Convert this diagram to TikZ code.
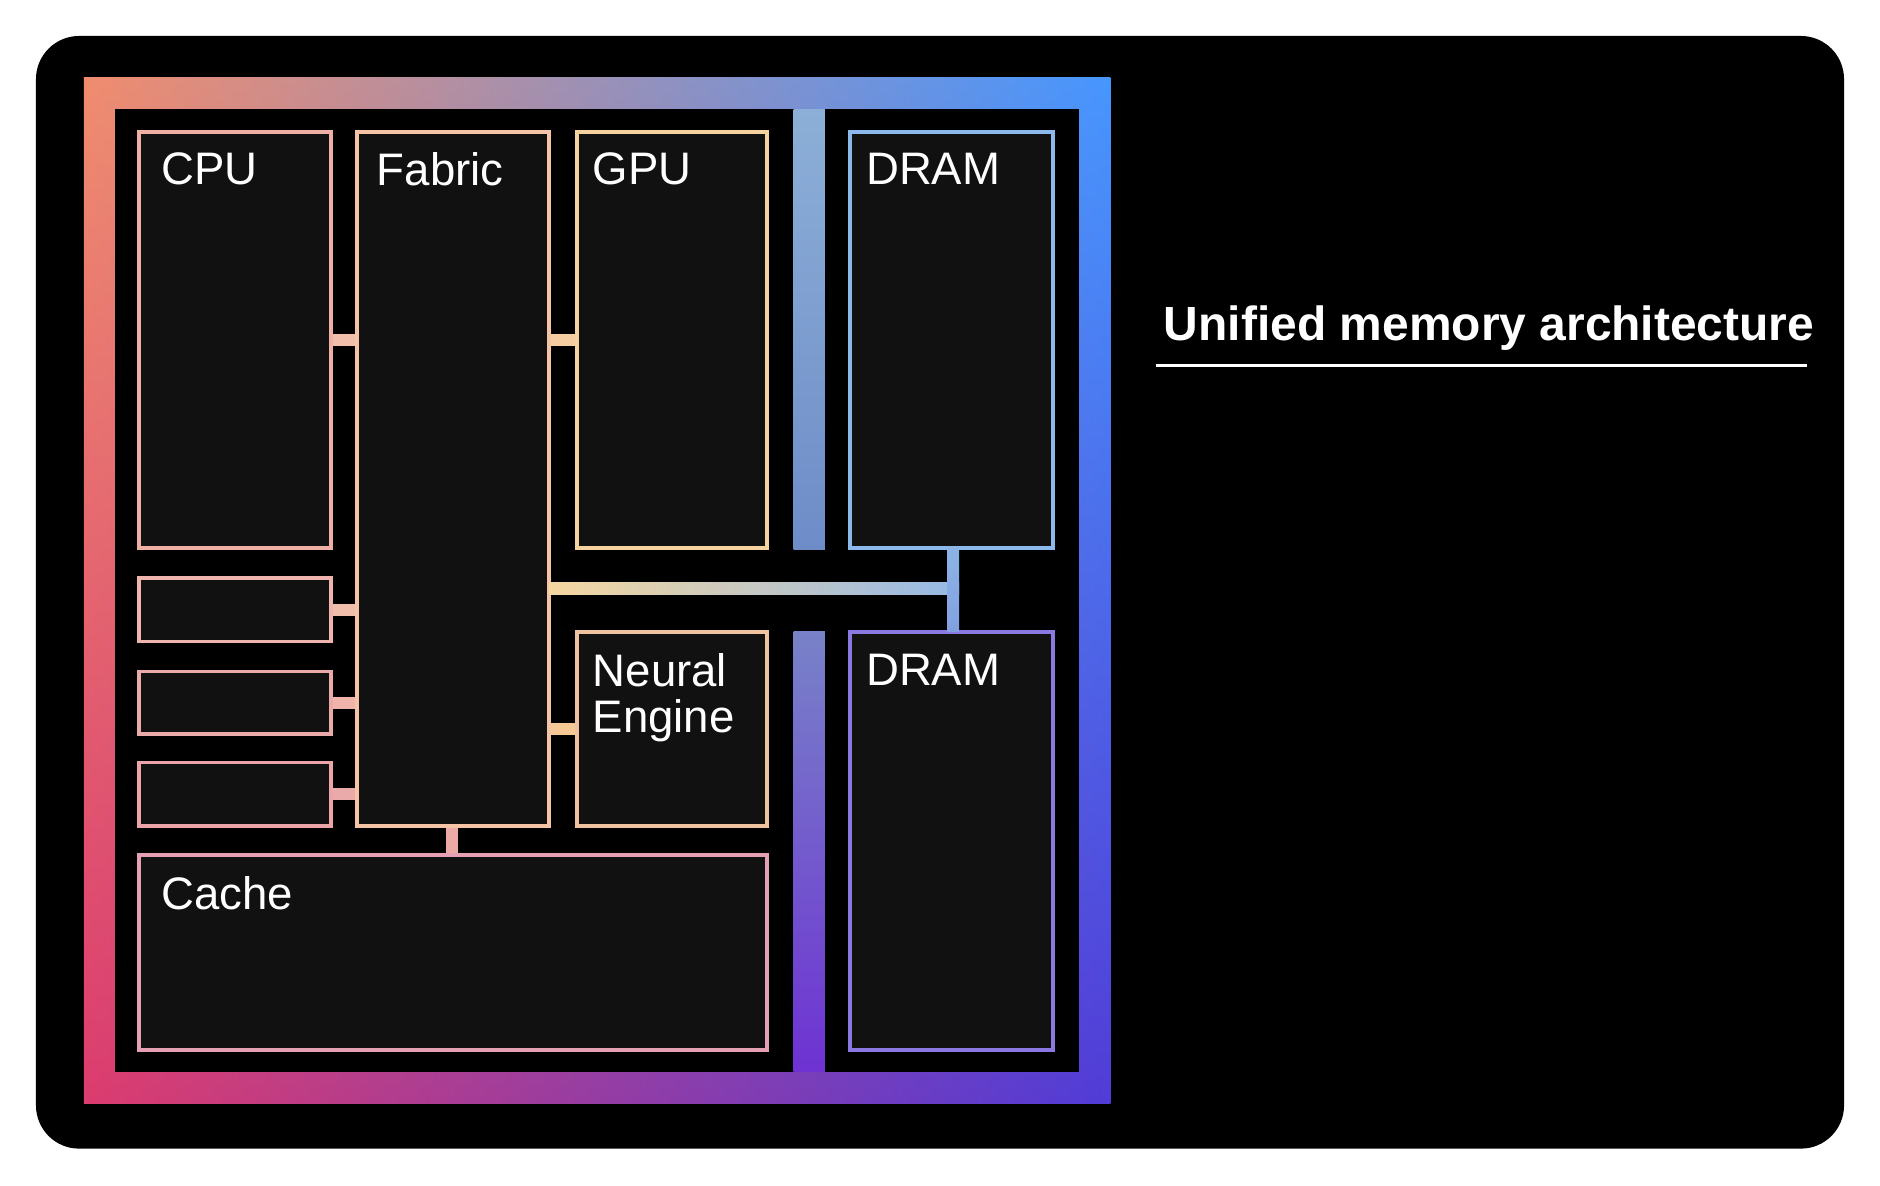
\documentclass[tikz,border=0pt]{standalone}
\usepackage{fontspec}
\setmainfont{Liberation Sans}
\usetikzlibrary{shadings}
\definecolor{boxfill}{HTML}{111111}
\definecolor{cUL}{RGB}{240,140,110}
\definecolor{cUR}{RGB}{70,150,255}
\definecolor{cLL}{RGB}{220,60,110}
\definecolor{cLR}{RGB}{80,60,215}
\definecolor{bTa}{RGB}{140,175,215}
\definecolor{bBa}{RGB}{110,140,200}
\definecolor{bTb}{RGB}{120,130,200}
\definecolor{bBb}{RGB}{110,50,210}
\definecolor{hL}{RGB}{245,215,160}
\definecolor{hR}{RGB}{150,185,230}
\definecolor{vT}{RGB}{140,180,230}
\definecolor{vB}{RGB}{130,160,225}
\definecolor{kA}{RGB}{240,190,170}
\definecolor{kB}{RGB}{240,180,170}
\definecolor{kC}{RGB}{235,170,170}
\definecolor{kD}{RGB}{245,205,160}
\definecolor{kE}{RGB}{245,200,150}
\definecolor{kF}{RGB}{235,170,165}
\definecolor{xCPU}{RGB}{240,175,165}
\definecolor{xSa}{RGB}{240,180,175}
\definecolor{xSb}{RGB}{235,170,170}
\definecolor{xSc}{RGB}{235,165,170}
\definecolor{xFab}{RGB}{245,195,165}
\definecolor{xGPU}{RGB}{245,210,160}
\definecolor{xNE}{RGB}{240,195,160}
\definecolor{xCa}{RGB}{230,160,180}
\definecolor{xDa}{RGB}{140,185,235}
\definecolor{xDb}{RGB}{140,120,225}
\begin{document}
\begin{tikzpicture}[x=0.5pt,y=-0.5pt,
  box/.style={draw=#1,fill=boxfill,line width=1.6pt,inner sep=0pt},
  lbl/.style={anchor=north west,text=white,font=\fontsize{19}{21}\selectfont,align=left,inner sep=0pt},
  conn/.style={draw=#1,line width=5pt}]
\useasboundingbox (0,0) rectangle (1568,989);
\fill[white] (0,0) rectangle (1568,989);
\fill[black,rounded corners=18pt] (30,30) rectangle (1538,958);
% gradient frame
\shade[upper left=cUL,upper right=cUR,lower left=cLL,lower right=cLR] (70,65) rectangle (926,920);
\fill[black] (96,91) rectangle (900,894);
\shade[top color=bTa,bottom color=bBa] (662,91) rectangle (688,458);
\shade[top color=bTb,bottom color=bBb] (662,527) rectangle (688,894);
% boxes
\node[box=xCPU,minimum width=80pt,minimum height=173.5pt] (cpu) at (196,283.5) {};
\node[box=xSa,minimum width=80pt,minimum height=26.5pt] (s1) at (196,508.5) {};
\node[box=xSb,minimum width=80pt,minimum height=26pt] (s2) at (196,586) {};
\node[box=xSc,minimum width=80pt,minimum height=26.5pt] (s3) at (196,662.5) {};
\node[box=xFab,minimum width=80pt,minimum height=289.5pt] (fabric) at (378,399.5) {};
\node[box=xGPU,minimum width=79.5pt,minimum height=173.5pt] (gpu) at (560.5,283.5) {};
\node[box=xNE,minimum width=79.5pt,minimum height=81pt] (ne) at (560.5,608) {};
\node[box=xCa,minimum width=262pt,minimum height=81.5pt] (cache) at (378,794.5) {};
\node[box=xDa,minimum width=84.5pt,minimum height=173.5pt] (dram1) at (793.5,283.5) {};
\node[box=xDb,minimum width=84.5pt,minimum height=174.5pt] (dram2) at (793.5,701.5) {};
% connectors
\draw[conn=kA] (cpu.east) -- (cpu.east -| fabric.west);
\draw[conn=kA] (s1.east) -- (s1.east -| fabric.west);
\draw[conn=kB] (s2.east) -- (s2.east -| fabric.west);
\draw[conn=kC] (s3.east) -- (s3.east -| fabric.west);
\draw[conn=kD] (gpu.west -| fabric.east) -- (gpu.west);
\draw[conn=kE] (ne.west -| fabric.east) -- (ne.west);
\draw[conn=kF] (fabric.south -| 377,0) -- (cache.north -| 377,0);
\coordinate (jn) at (795,491);
\shade[left color=hL,right color=hR] (458,486) rectangle (800,496);
\shade[top color=vT,bottom color=vB] (790,457) rectangle (800,527);
% labels
\node[lbl] (tcpu) at (134,127) {CPU};
\node[lbl] (tfab) at (314,127) {Fabric};
\node[lbl] (tgpu) at (494,127) {GPU};
\node[lbl] (td1) at (722,127) {DRAM};
\node[lbl] (td2) at (722,545) {DRAM};
\node[lbl] (tne) at (494,545) {Neural\\[-2pt]Engine};
\node[lbl] (tca) at (134,731) {Cache};
\node[text=white,font=\bfseries\fontsize{20}{22}\selectfont,inner sep=0pt] (title) at (1242,274) {Unified memory architecture};
\draw[white,line width=1.2pt] (964,305) -- (1507,305);
\end{tikzpicture}
\end{document}
